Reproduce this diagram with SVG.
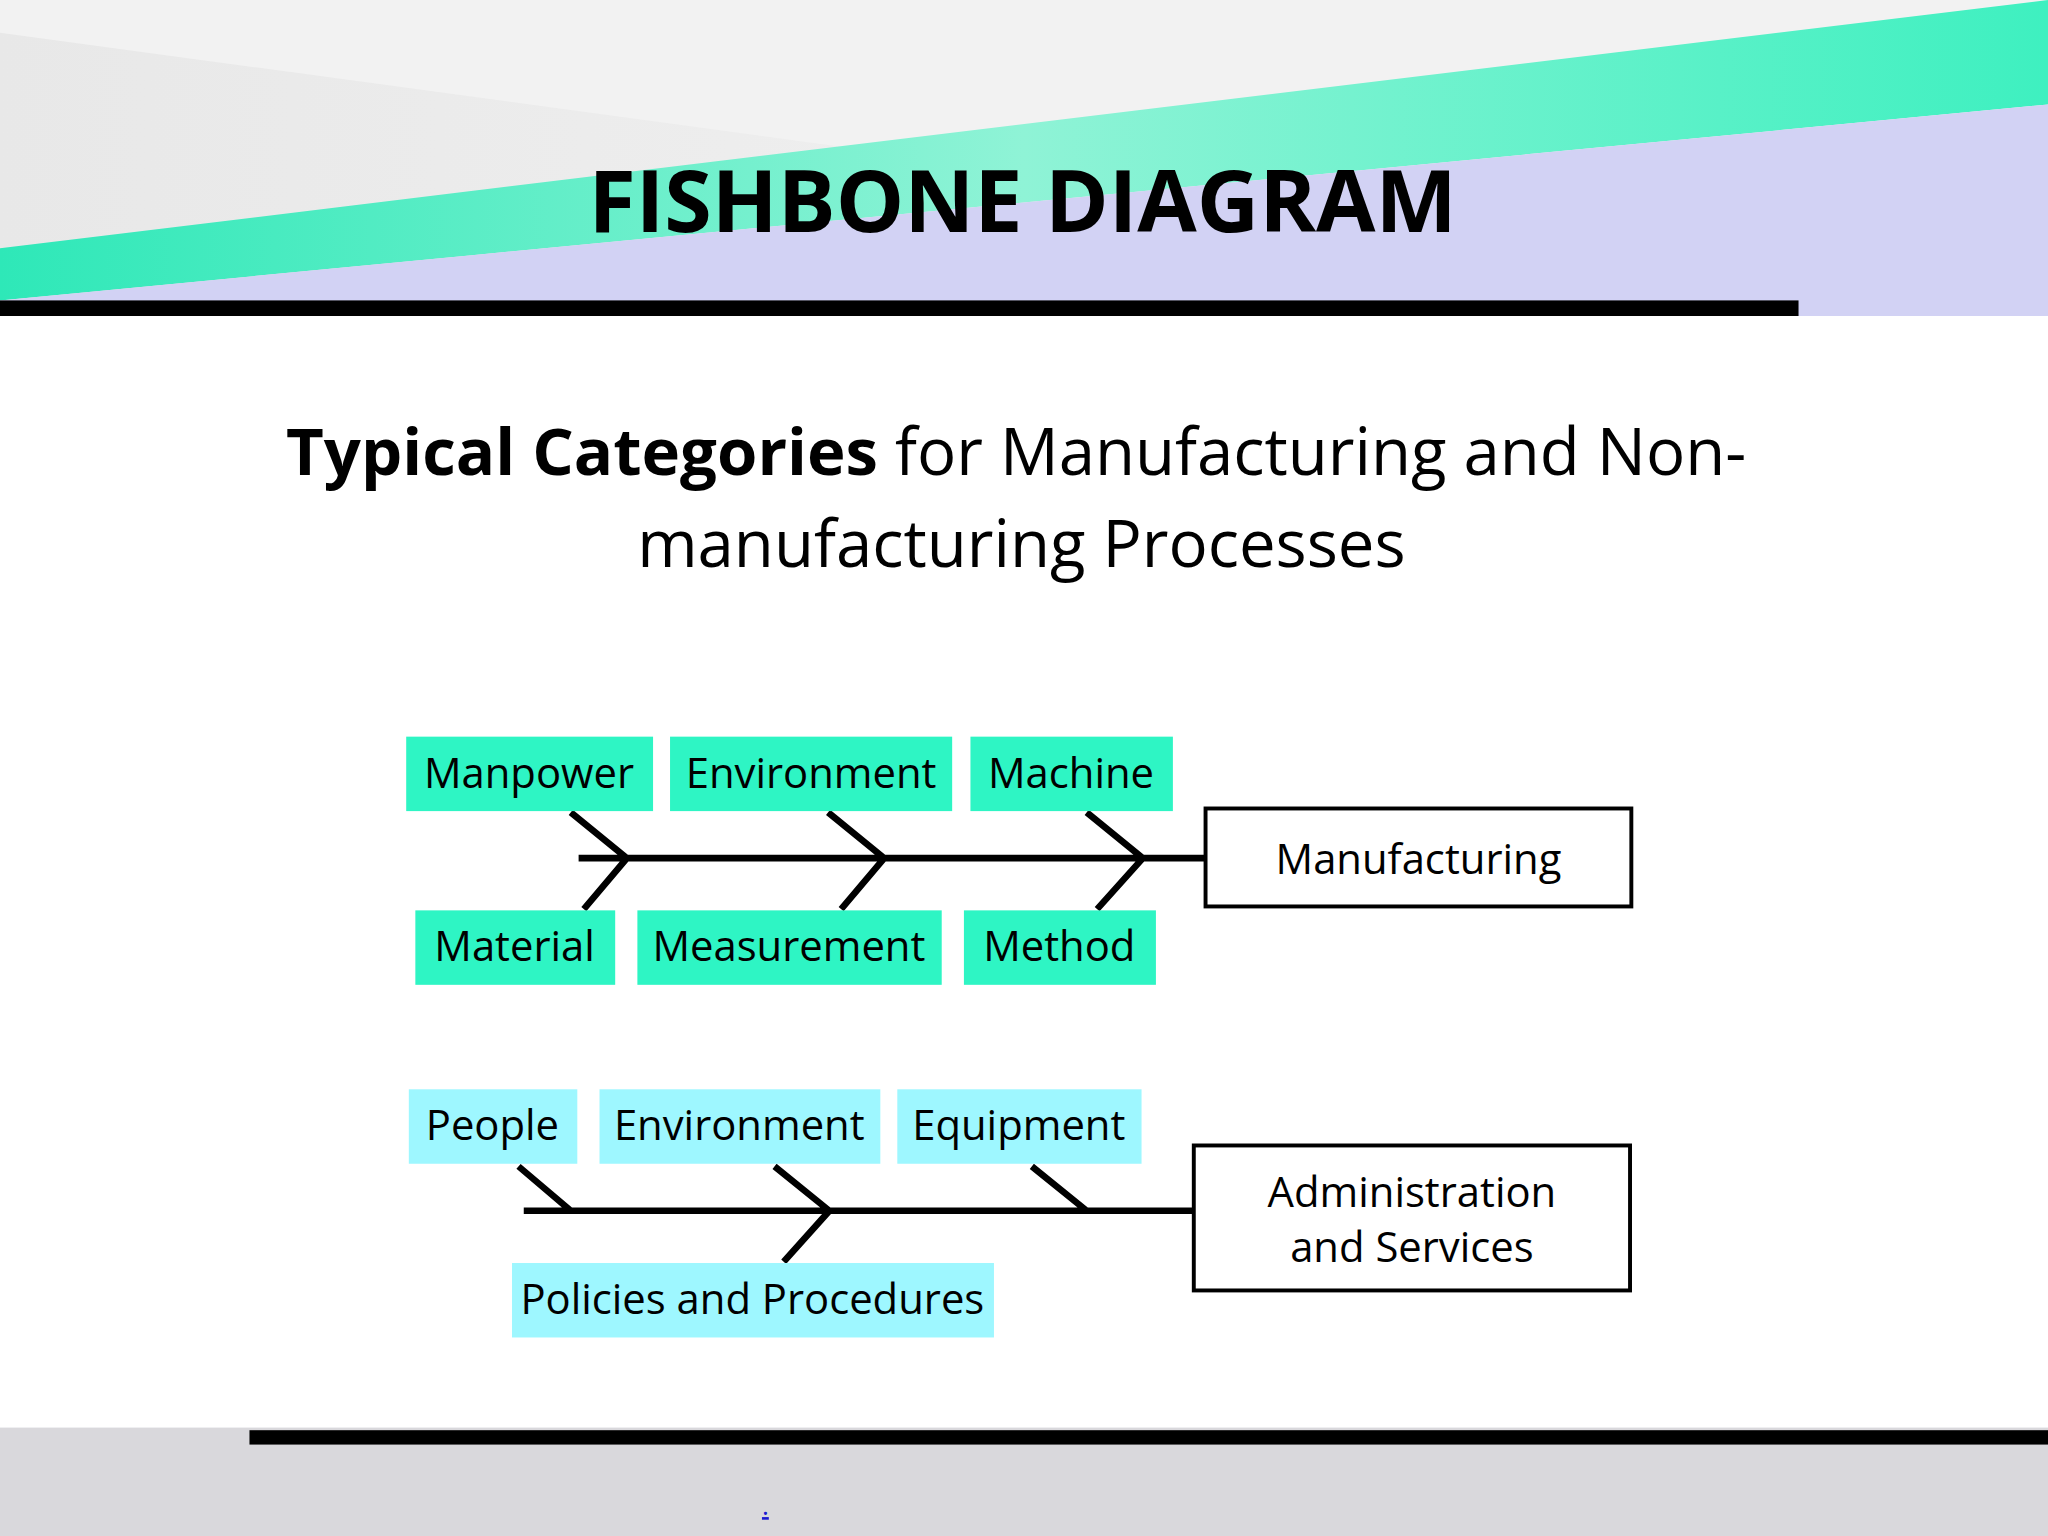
<svg xmlns="http://www.w3.org/2000/svg" width="2048" height="1536" viewBox="0 0 2048 1536">
<defs>
<linearGradient id="bg" x1="0" y1="0" x2="1" y2="0"><stop offset="0" stop-color="#e8e8e8"/><stop offset="1" stop-color="#f6f6f6"/></linearGradient>
<linearGradient id="tl" x1="0" y1="0" x2="1" y2="0"><stop offset="0" stop-color="#2ee8b8"/><stop offset="0.5" stop-color="#8ff3d6"/><stop offset="1" stop-color="#3ef0c0"/></linearGradient>
<style>
.t{font-family:"Open Sans","Liberation Sans",sans-serif;fill:#000}
.b{stroke:#000;stroke-width:5;fill:none}
.g{fill:#2ef5c4}
.c{fill:#9ef7ff}
.lbl{font-size:32px;text-anchor:middle}
</style>
</defs>
<g transform="scale(1.30612)">
<rect x="0" y="0" width="1568" height="242" fill="url(#bg)"/>
<polygon points="0,25 700,120 1568,80 1568,0 0,0" fill="#f2f2f2"/>
<polygon points="0,190 1568,0 1568,80 0,230" fill="url(#tl)"/>
<polygon points="0,230 1568,80 1568,242 0,242" fill="#d2d2f4"/>
<rect x="0" y="230" width="1377" height="12" fill="#000"/>
<rect x="0" y="242" width="1568" height="851" fill="#fff"/>
<rect x="0" y="1093" width="1568" height="83" fill="#d9d8dc"/>
<rect x="191" y="1095" width="1377" height="11" fill="#000"/>
<text x="586" y="1160" class="t" style="font-size:20px;fill:#1a1ad0" text-anchor="middle" text-decoration="underline">.</text>
<text x="783" y="178" class="t" style="font-size:66px;font-weight:bold" text-anchor="middle">FISHBONE DIAGRAM</text>
<text x="778" y="364" class="t" style="font-size:50px" text-anchor="middle"><tspan font-weight="bold">Typical Categories</tspan> for Manufacturing and Non-</text>
<text x="782" y="434" class="t" style="font-size:50px" text-anchor="middle">manufacturing Processes</text>
<g id="connectors">
<path class="b" d="M443,657 H923 M437,622 L480,657 L447,696 M634,622 L677,657 L644,696 M832,622 L875,657 L840,696"/>
<path class="b" d="M401,927 H914 M397,893 L437,927 M593,893 L635,927 L600,966 M790,893 L832,927"/>
</g>
<g id="manufacturing"><rect x="923" y="619" width="326" height="75" fill="#fff" stroke="#000" stroke-width="3"/><text x="1086" y="669" class="t lbl">Manufacturing</text></g>
<g id="manpower"><rect class="g" x="311" y="564" width="189" height="57"/><text x="405" y="603" class="t lbl">Manpower</text></g>
<g id="environment1"><rect class="g" x="513" y="564" width="216" height="57"/><text x="621" y="603" class="t lbl">Environment</text></g>
<g id="machine"><rect class="g" x="743" y="564" width="155" height="57"/><text x="820" y="603" class="t lbl">Machine</text></g>
<g id="material"><rect class="g" x="318" y="697" width="153" height="57"/><text x="394" y="736" class="t lbl">Material</text></g>
<g id="measurement"><rect class="g" x="488" y="697" width="233" height="57"/><text x="604" y="736" class="t lbl">Measurement</text></g>
<g id="method"><rect class="g" x="738" y="697" width="147" height="57"/><text x="811" y="736" class="t lbl">Method</text></g>
<g id="admin"><rect x="914" y="877" width="334" height="111" fill="#fff" stroke="#000" stroke-width="3"/><text x="1081" y="924" class="t lbl">Administration</text><text x="1081" y="966" class="t lbl">and Services</text></g>
<g id="people"><rect class="c" x="313" y="834" width="129" height="57"/><text x="377" y="873" class="t lbl">People</text></g>
<g id="environment2"><rect class="c" x="459" y="834" width="215" height="57"/><text x="566" y="873" class="t lbl">Environment</text></g>
<g id="equipment"><rect class="c" x="687" y="834" width="187" height="57"/><text x="780" y="873" class="t lbl">Equipment</text></g>
<g id="policies"><rect class="c" x="392" y="967" width="369" height="57"/><text x="576" y="1006" class="t lbl">Policies and Procedures</text></g>
</g>
</svg>
